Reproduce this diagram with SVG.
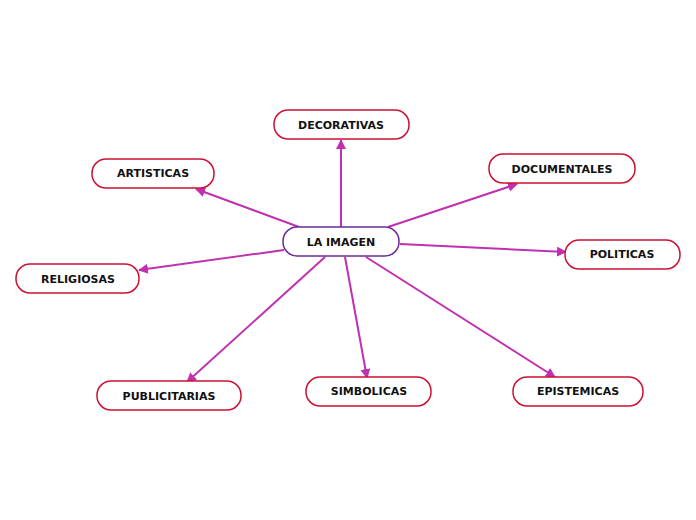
<svg xmlns="http://www.w3.org/2000/svg" width="696" height="520" viewBox="0 0 696 520">
<style>
.n rect{fill:#fff;stroke:#cc1133;stroke-width:1.5}
.c rect{stroke:#6a2a9a}
text{font-family:"DejaVu Sans",Verdana,sans-serif;font-weight:bold;font-size:11px;text-anchor:middle;fill:#111}
.e line{stroke:#c030b0;stroke-width:2}
</style>
<defs><marker id="a" viewBox="0 0 10 10" refX="9" refY="5" markerWidth="5" markerHeight="5" orient="auto"><path d="M0,0L10,5L0,10z" fill="#c030b0"/></marker></defs>
<rect width="696" height="520" fill="#fff"/>
<g class="e" marker-end="url(#a)">
<line x1="341" y1="227" x2="341" y2="140" marker-end="url(#a)"/>
<line x1="299" y1="227" x2="196" y2="189" marker-end="url(#a)"/>
<line x1="388" y1="227" x2="517" y2="184" marker-end="url(#a)"/>
<line x1="284" y1="250" x2="139" y2="270" marker-end="url(#a)"/>
<line x1="400" y1="244" x2="566" y2="252" marker-end="url(#a)"/>
<line x1="325" y1="257" x2="187" y2="382" marker-end="url(#a)"/>
<line x1="345" y1="257" x2="367" y2="378" marker-end="url(#a)"/>
<line x1="366" y1="257" x2="555" y2="377" marker-end="url(#a)"/>
</g>
<g id="center" class="n c"><rect x="283" y="227" width="116" height="29" rx="14"/><text x="341" y="246">LA IMAGEN</text></g>
<g id="decorativas" class="n"><rect x="274" y="110" width="135" height="29" rx="14"/><text x="341" y="129">DECORATIVAS</text></g>
<g id="artisticas" class="n"><rect x="92" y="159" width="122" height="29" rx="14"/><text x="153" y="177">ARTISTICAS</text></g>
<g id="documentales" class="n"><rect x="489" y="154" width="146" height="29" rx="14"/><text x="562" y="173">DOCUMENTALES</text></g>
<g id="religiosas" class="n"><rect x="16" y="264" width="123" height="29" rx="14"/><text x="78" y="283">RELIGIOSAS</text></g>
<g id="politicas" class="n"><rect x="565" y="240" width="115" height="29" rx="14"/><text x="622" y="258">POLITICAS</text></g>
<g id="publicitarias" class="n"><rect x="97" y="381" width="144" height="29" rx="14"/><text x="169" y="400">PUBLICITARIAS</text></g>
<g id="simbolicas" class="n"><rect x="306" y="377" width="125" height="29" rx="14"/><text x="369" y="395">SIMBOLICAS</text></g>
<g id="epistemicas" class="n"><rect x="513" y="377" width="130" height="29" rx="14"/><text x="578" y="395">EPISTEMICAS</text></g>
</svg>
